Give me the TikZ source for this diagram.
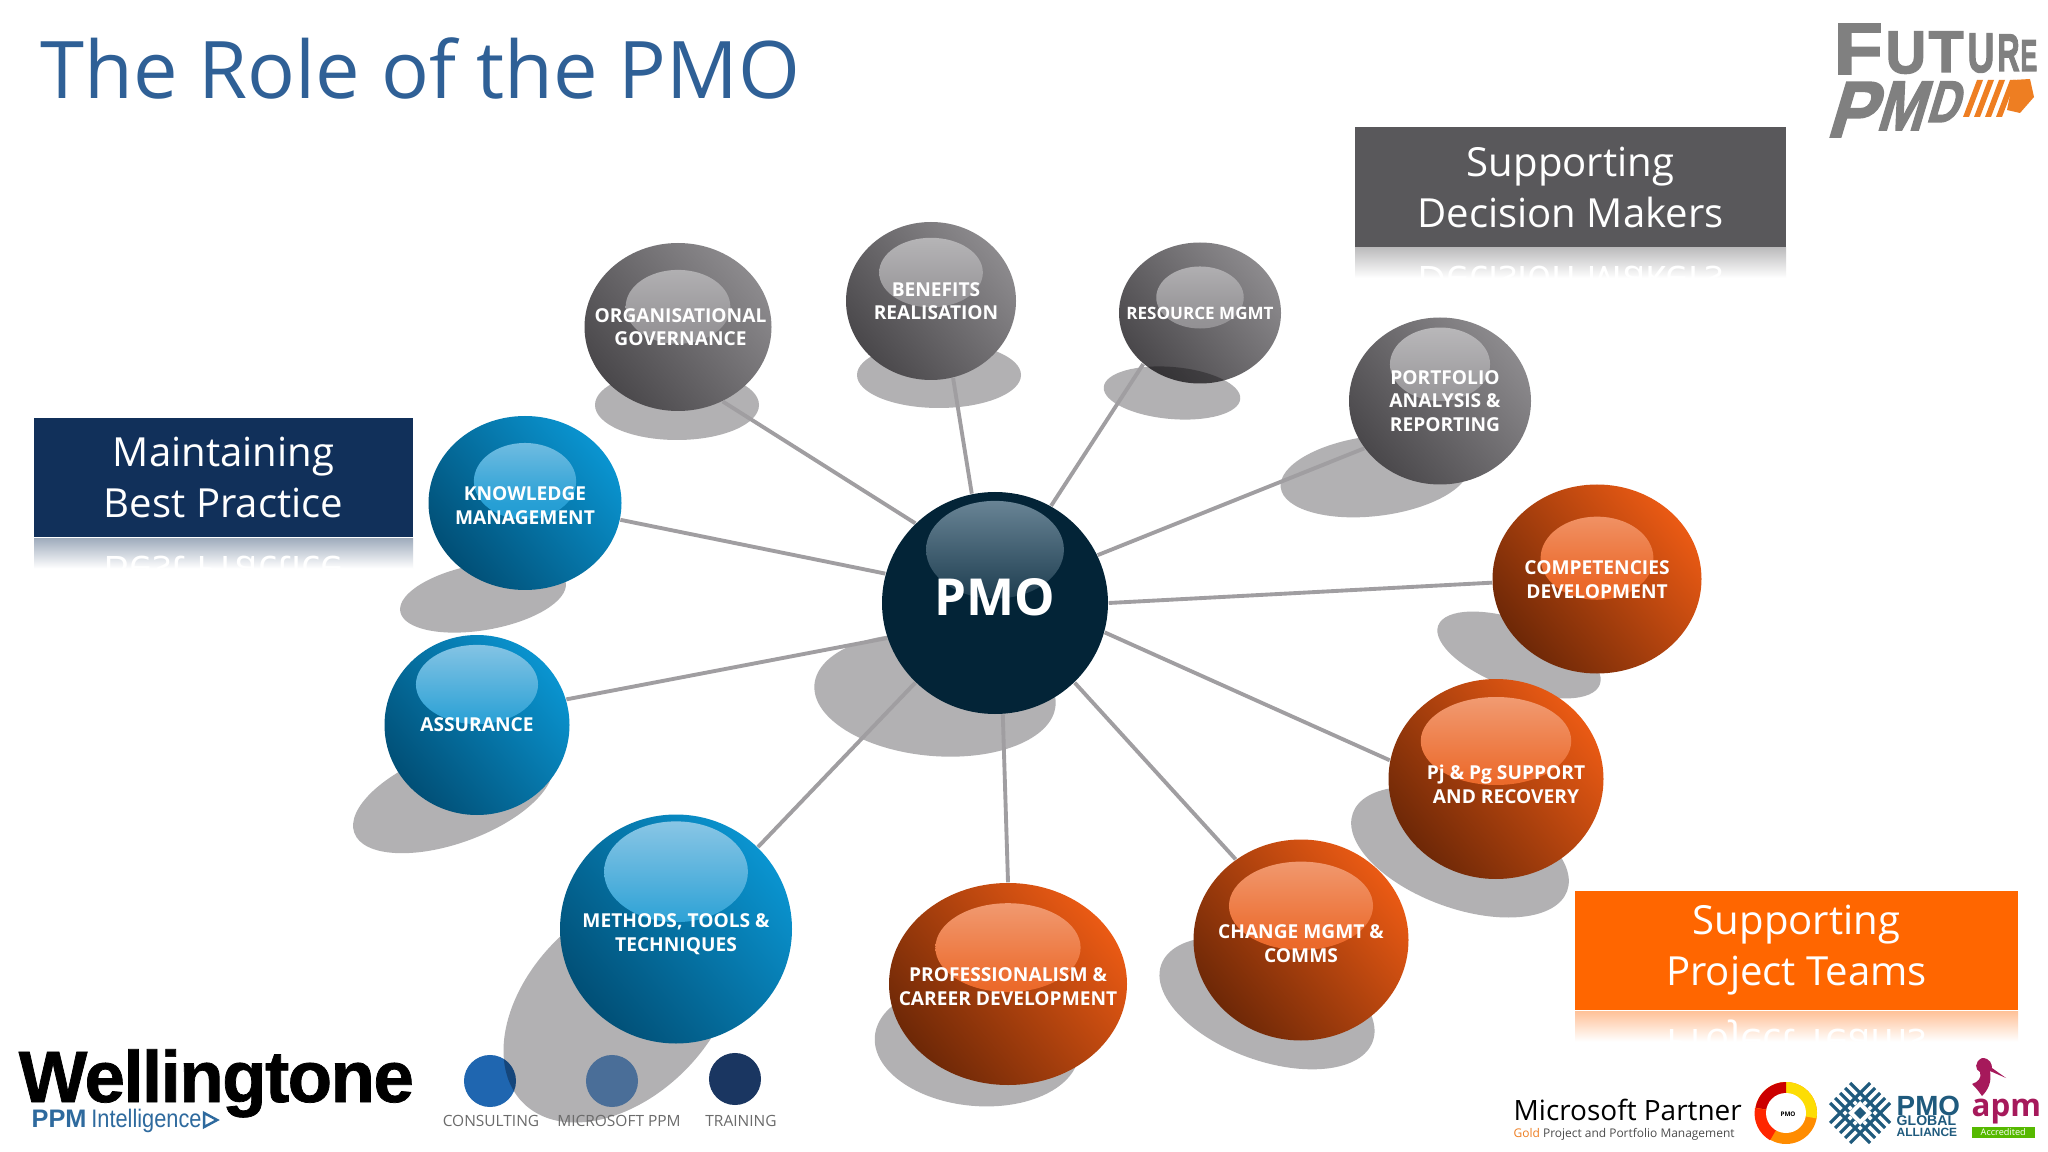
\documentclass[tikz,border=0pt]{standalone}
\usepackage{fontspec}
\setmainfont{Open Sans}
\newfontfamily\logofont{Liberation Sans}
\newfontfamily\logoheavy[FakeBold=2.5]{Liberation Sans}
\newfontfamily\wellfont[LetterSpace=-2.2,FakeBold=1]{Liberation Sans}
\usetikzlibrary{shapes.geometric, arrows.meta, positioning, calc}

\definecolor{titleblue}{HTML}{2F6096}
\definecolor{castgray}{HTML}{B2B1B3}
\definecolor{linkgray}{HTML}{A09EA1}
\definecolor{panelgray}{HTML}{59585B}
\definecolor{panelnavy}{HTML}{11305A}
\definecolor{panelorange}{HTML}{FF6600}
\definecolor{logogray}{HTML}{808080}
\definecolor{logoorange}{HTML}{EE7E22}
\definecolor{ppmblue}{HTML}{2E6A9E}
\definecolor{alliance}{HTML}{1F5A7D}
\definecolor{apmpurple}{HTML}{A6195B}
\definecolor{dotblue}{HTML}{1F66B0}
\definecolor{dotsteel}{HTML}{4A6E98}
\definecolor{dotnavy}{HTML}{1A3661}

\newcommand{\dropline}[2]{\raisebox{-#1cm}[1.6ex][.4ex]{#2}}

\begin{document}
\begin{tikzpicture}[
x=0.01cm, y=-0.01cm,
% --- Balls ---
bluefam/.code={\definecolor{balllight}{HTML}{0A94D0}\definecolor{balldark}{HTML}{014F76}\definecolor{ballhigh}{HTML}{8FC8E6}},
orangefam/.code={\definecolor{balllight}{HTML}{EA5A14}\definecolor{balldark}{HTML}{6E2807}\definecolor{ballhigh}{HTML}{F2A581}},
grayfam/.code={\definecolor{balllight}{HTML}{8C8A8D}\definecolor{balldark}{HTML}{4A484B}\definecolor{ballhigh}{HTML}{BDBCBE}},
navyfam/.code={\definecolor{balllight}{HTML}{032437}\definecolor{balldark}{HTML}{032437}\definecolor{ballhigh}{HTML}{6F8A9B}},
ball/.style n args={4}{ellipse, inner xsep=-1.2cm, inner ysep=-.4cm, align=center, text=white,
  minimum width=#1*0.01cm, minimum height=#2*0.01cm,
  font=\bfseries\fontsize{5.45}{6.7}\selectfont,
  top color=balllight, middle color=balllight, bottom color=balldark, shading angle=-50,
  path picture={\shade[shading angle=0, top color=ballhigh, bottom color=balllight!85!balldark, middle color=ballhigh!22!balllight]
    ($(path picture bounding box.north)+(0,{#2*(#4+.22)})$) ellipse [x radius=#3*#1/2, y radius=.22*#2];}},
cast/.style n args={3}{ellipse, fill=castgray, inner sep=0,
  minimum width=#1*0.01cm, minimum height=#2*0.01cm, rotate=#3},
link/.style={draw=linkgray, line width=1.1pt},
% --- Panels ---
panel/.style n args={2}{fill=#1, minimum width=#2*0.01cm, minimum height=1.19cm, inner sep=0,
  align=center, text=white, font=\fontsize{11.4}{14.5}\selectfont},
band/.style n args={2}{top color=#1, bottom color=white, minimum width=#2*0.01cm,
  minimum height=0.3cm, inner sep=0},
mirror/.style={transform shape, yscale=-1, anchor=base, inner sep=0, text=white,
  font=\fontsize{11.4}{14.5}\selectfont},
% --- Logos ---
dot/.style={circle, fill=#1, minimum size=0.52cm, inner sep=0},
dotlabel/.style={inner sep=0, text=black!58, font=\fontsize{4.4}{5}\selectfont},
logotext/.style={anchor=base west, inner sep=0, transform shape}
]

\useasboundingbox (0,0) rectangle (2048,1152);
\fill[white] (0,0) rectangle (2048,1152);

\node[anchor=base west, inner sep=0, text=titleblue, font=\fontsize{22.6}{24}\selectfont] (title) at (40,99) {The Role of the PMO};

% --- Shadows ---
\node[dot=dotblue] (consulting) at (490,1081) {};
\begin{scope}[blend mode=multiply]
\node[cast={274}{183}{45}] (castmethods) at (620,1006) {};
\end{scope}
\node[cast={164}{70}{0}] (castorg) at (677,405) {};
\node[cast={164}{66}{0}] (castbenefits) at (939,375) {};
\node[cast={190}{80}{7}] (castportfolio) at (1375,476) {};
\node[cast={172}{68}{-20}] (castcompetencies) at (1519,655) {};
\node[cast={228}{112}{-20}] (castsupport) at (1460,852) {};
\node[cast={225}{115}{-20}] (castchange) at (1267,1003) {};
\node[cast={205}{122}{-5}] (castprof) at (977,1045) {};
\node[cast={210}{92}{20}] (castassurance) at (453,797) {};
\node[cast={168}{66}{10}] (castknowledge) at (483,597) {};
\node[cast={242}{122}{-5}] (castpmo) at (935,695) {};

% --- Lower dots ---
\node[dot=dotsteel] (microsoft) at (612,1081) {};
\node[dot=dotnavy] (training) at (735,1079) {};
\node[dotlabel] (consultinglabel) at (491,1121) {CONSULTING};
\node[dotlabel] (microsoftlabel) at (619,1121) {MICROSOFT PPM};
\node[dotlabel] (traininglabel) at (741,1121) {TRAINING};

% --- Balls ---
\node[grayfam, ball={187}{168}{.56}{.16}] (org) at (678,327) {\hspace*{.05cm}ORGANISATIONAL\\\hspace*{.05cm}GOVERNANCE};
\node[grayfam, ball={170}{158}{.61}{.10}] (benefits) at (931,301) {\hspace*{.1cm}BENEFITS\\\hspace*{.1cm}REALISATION};
\node[grayfam, ball={162}{141}{.54}{.17}, font=\bfseries\fontsize{4.85}{6}\selectfont] (resource) at (1200,313) {RESOURCE MGMT};
\node[grayfam, ball={182}{167}{.55}{.06}] (portfolio) at (1440,401) {\hspace*{.1cm}PORTFOLIO\\\hspace*{.1cm}ANALYSIS \&\\\hspace*{.1cm}REPORTING};
\node[orangefam, ball={209}{189}{.54}{.17}] (competencies) at (1597,579) {\dropline{.01}{COMPETENCIES}\\\dropline{.01}{DEVELOPMENT}};
\node[orangefam, ball={215}{200}{.70}{.09}] (support) at (1496,779) {\hspace*{.2cm}\dropline{.06}{Pj \& Pg SUPPORT}\\\hspace*{.2cm}\dropline{.06}{AND RECOVERY}};
\node[orangefam, ball={215}{201}{.67}{.11}] (change) at (1301,940) {\dropline{.04}{CHANGE MGMT \&}\\\dropline{.04}{COMMS}};
\node[orangefam, ball={238}{202}{.61}{.10}] (prof) at (1008,984) {\dropline{.03}{PROFESSIONALISM \&}\\\dropline{.03}{CAREER DEVELOPMENT}};
\node[bluefam, ball={232}{229}{.62}{.03}] (methods) at (676,929) {\dropline{.04}{METHODS, TOOLS \&}\\\dropline{.04}{TECHNIQUES}};
\node[bluefam, ball={185}{180}{.66}{.055}] (assurance) at (477,725) {ASSURANCE};
\node[bluefam, ball={193}{174}{.53}{.155}] (knowledge) at (525,503) {\dropline{.03}{KNOWLEDGE}\\\dropline{.03}{MANAGEMENT}};
\node[navyfam, ball={226}{222}{.61}{.04}, font=\bfseries\fontsize{14.5}{14.5}\selectfont] (pmo) at (995,603) {\raisebox{.12cm}{PMO}};

\begin{scope}[blend mode=multiply]
\node[cast={137}{52}{-5}] (castresource) at (1172,393) {};
\end{scope}

% --- Connectors ---
\foreach \target/\from/\to in {org/135/-59, benefits/102/-74, resource/60/222, portfolio/25/212, competencies/0/182, support/-15/170, change/-45/129, prof/-86/90, methods/225/45, assurance/198/16, knowledge/165/-10}
  \draw[link] (pmo.\from) -- (\target.\to);

% --- Panels ---
\node[panel={panelgray}{431}] (decision) at (1570.5,187) {Supporting\\Decision Makers};
\node[panel={panelnavy}{379}] (best) at (223.5,477.5) {Maintaining\\Best Practice};
\node[panel={panelorange}{443}] (teams) at (1796.5,950.5) {Supporting\\Project Teams};
\node[band={panelgray!40}{431}, below=0pt of decision] (banddecision) {};
\node[band={panelnavy!40}{379}, below=0pt of best] (bandbest) {};
\node[band={panelorange!40}{443}, below=0pt of teams] (bandteams) {};

\foreach \panel/\ghost in {decision/Decision Makers, best/Best Practice, teams/Project Teams} {
  \begin{scope}
  \clip (band\panel.north west) rectangle (band\panel.south east);
  \node[mirror] (mirror\panel) at ($(\panel.south)+(0,19)$) {\ghost};
  \end{scope}
}

% --- Future PMO logo ---
\foreach \ltr/\lx/\ly/\lsize/\lscale [count=\i] in {F/1833/74/20.7/1.1, U/1885/73/17.1/.93, T/1928/72/16.7/.97, U/1967/72/15.9/.67, R/1997/71/15.1/.58, E/2020/71/12.7/.57}
  \node[logotext, xscale=\lscale, text=logogray, font=\logoheavy\bfseries\fontsize{\lsize}{\lsize}\selectfont] (future\i) at (\lx,\ly) {\ltr};
\foreach \ltr/\lx/\ly/\lsize/\lscale [count=\i] in {P/1825/137/22.6/.9, M/1875/130/19.9/.8, D/1925/122/16.7/.75}
  \node[logotext, xslant=.3, xscale=\lscale, text=logogray, font=\logoheavy\bfseries\fontsize{\lsize}{\lsize}\selectfont] (pmd\i) at (\lx,\ly) {\ltr};
\foreach \k in {0,1,2,3}
  \fill[logoorange] ({1963+11*\k},117) -- ({1977+11*\k},80) -- ({1983+11*\k},80) -- ({1969+11*\k},117) -- cycle;
\fill[logoorange] (2007,110) -- (2013,80) -- (2030,79) -- (2034,97) -- (2020,113) -- cycle;

% --- Wellingtone logo ---
\node[anchor=base west, inner sep=0, font=\wellfont\bfseries\fontsize{20.7}{20.7}\selectfont] (wellingtone) at (18,1102) {Wellingtone};
\node[anchor=base west, inner sep=0, text=ppmblue, font=\logofont\bfseries\fontsize{7.2}{7.2}\selectfont] (ppm) at (31,1127) {PPM};
\node[inner sep=0, text=ppmblue, font=\logofont\fontsize{7.2}{7.2}\selectfont, transform shape, xscale=.86, right=1pt of ppm.base east, anchor=base west] (intelligence) {Intelligence};
\draw[ppmblue, line width=.7pt] ($(intelligence.base east)+(2,-14)$) -- ++(13,7) -- ++(-13,7) -- cycle;

% --- Partner logos ---
\node[anchor=base west, inner sep=0, font=\fontsize{7.95}{8}\selectfont] (partner) at (1513,1120) {Microsoft Partner};
\node[anchor=base west, inner sep=0, text=black!70, font=\fontsize{3.4}{3.4}\selectfont] (gold) at (1513,1137) {\textcolor{logoorange}{Gold} Project and Portfolio Management};

\fill[orange!90!yellow] (1786,1113) circle [radius=31];
\fill[yellow!80!orange] (1786,1113) -- (1786,1082) arc [start angle=-90, end angle=10, radius=31] -- cycle;
\fill[red!80!black] (1786,1113) -- (1786,1082) arc [start angle=-90, end angle=-170, radius=31] -- cycle;
\fill[red!70!orange] (1786,1113) -- (1755,1108) arc [start angle=-170, end angle=-240, radius=31] -- cycle;
\fill[white] (1786,1113) circle [radius=20];
\node[inner sep=0, font=\bfseries\fontsize{1.8}{2}\selectfont] (pmoring) at (1788,1114) {PMO};

\foreach \k in {-10,-5,0,5,10} {
  \draw[alliance, line width=.9pt] ({1860-20+\k},{1113-20-\k}) -- ({1860+20+\k},{1113+20-\k});
  \draw[alliance, line width=.9pt] ({1860+20+\k},{1113-20+\k}) -- ({1860-20+\k},{1113+20+\k});
}
\fill[white] (1860,1101) -- (1872,1113) -- (1860,1125) -- (1848,1113) -- cycle;
\fill[alliance] (1860,1107) -- (1866,1113) -- (1860,1119) -- (1854,1113) -- cycle;
\node[anchor=base west, inner sep=0, text=alliance, font=\logofont\bfseries\fontsize{7.9}{8}\selectfont] (allianceA) at (1896,1115) {PMO};
\node[anchor=base west, inner sep=0, text=alliance, font=\logofont\bfseries\fontsize{4}{4}\selectfont] (allianceB) at (1896,1125) {GLOBAL};
\node[anchor=base west, inner sep=0, text=alliance, font=\logofont\bfseries\fontsize{3.4}{3.4}\selectfont] (allianceC) at (1896,1136) {ALLIANCE};

\fill[apmpurple] (1982,1058) .. controls (1990,1058) and (1992,1064) .. (1992,1068) -- (2006,1078) -- (1990,1071) .. controls (1992,1082) and (1988,1090) .. (1982,1096) .. controls (1978,1090) and (1974,1086) .. (1972,1084) .. controls (1978,1082) and (1982,1078) .. (1980,1072) .. controls (1975,1070) and (1974,1062) .. (1982,1058) -- cycle;
\node[anchor=base west, inner sep=0, text=apmpurple, font=\bfseries\fontsize{8.9}{9}\selectfont] (apm) at (1971,1116) {apm};
\node[anchor=north west, fill=green!50!black!55!lime, text=white, inner sep=0, minimum width=.63cm, minimum height=.11cm, font=\fontsize{2.6}{2.6}\selectfont] (accredited) at (1971,1126) {Accredited};

\end{tikzpicture}
\end{document}
